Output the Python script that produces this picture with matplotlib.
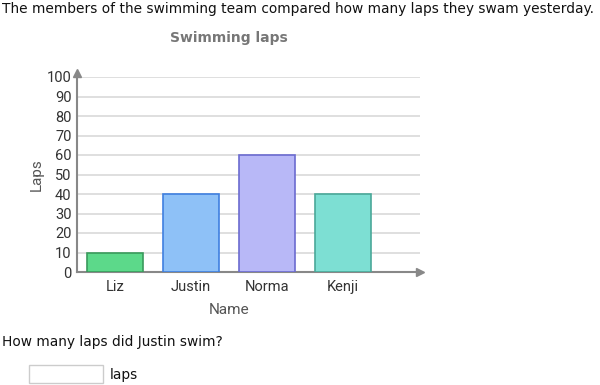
import numpy as np
import matplotlib.pyplot as plt
from matplotlib.patches import Rectangle

names = ['Liz', 'Justin', 'Norma', 'Kenji']
laps = [10, 40, 60, 40]
fills = ['#5cd98a', '#8ec1f7', '#b8b8f7', '#7ddfd3']
edges = ['#3a9a5c', '#3f7fe0', '#6b6bd0', '#4aa899']
yticks = list(range(0, 101, 10))

W, H = 600, 385
fig = plt.figure(figsize=(W / 100, H / 100), dpi=100)

# axes box in pixels: left 77, right 420, bottom y=272, top y=77
ax = fig.add_axes([77 / W, 1 - 272 / H, (420 - 77) / W, (272 - 77) / H])
x = np.arange(len(names))
ax.bar(x, laps, width=0.737, color=fills, edgecolor=edges, linewidth=1.2, zorder=3)
ax.set_xlim(-0.5, 4.01)
ax.set_ylim(0, 100)
ax.set_yticks(yticks)
ax.set_xticks(x)
ax.set_xticklabels(names)
ax.grid(axis='y', color='#d9d9d9', linewidth=1.2, zorder=0)
for s in ['top', 'right']:
    ax.spines[s].set_visible(False)
for s in ['left', 'bottom']:
    ax.spines[s].set_color('#888888')
    ax.spines[s].set_linewidth(1.5)
ax.tick_params(length=0, labelsize=10.5, labelcolor='#333333', pad=4)
for lab in ax.get_xticklabels() + ax.get_yticklabels():
    lab.set_family('Roboto')
ax.tick_params(axis='x', pad=6)

# arrows on the axes
ax.plot(1, 0, '>', transform=ax.transAxes, color='#888888', ms=6, clip_on=False, zorder=4)
ax.plot(0, 1.02, '^', transform=ax.transAxes, color='#888888', ms=6, clip_on=False, zorder=4)

ax.set_ylabel('Laps', family='Roboto', fontsize=11, color='#555555')
ax.set_xlabel('Name', family='Roboto', fontsize=11, color='#555555')
ax.yaxis.set_label_coords((37 - 77) / 343, (272 - 175) / 195)
ax.xaxis.set_label_coords((229 - 77) / 343, -(310 - 272) / 195)
ax.xaxis.label.set_va('center')
ax.yaxis.label.set_va('center')

fig.text(229 / W, 1 - 38 / H, 'Swimming laps', ha='center', va='center',
         fontsize=10, fontweight='bold', color='#777777', family='DejaVu Sans')
fig.text(2 / W, 1 - 9 / H,
         'The members of the swimming team compared how many laps they swam yesterday.',
         ha='left', va='center', fontsize=9.95, color='#111111', family='DejaVu Sans')
fig.text(2 / W, 1 - 342 / H, 'How many laps did Justin swim?', ha='left', va='center',
         fontsize=9.95, color='#111111', family='DejaVu Sans')
fig.patches.append(Rectangle((29 / W, 1 - 383 / H), 74 / W, 18 / H, transform=fig.transFigure,
                             facecolor='white', edgecolor='#cccccc', linewidth=1))
fig.text(110 / W, 1 - 375 / H, 'laps', ha='left', va='center', fontsize=9.95,
         color='#111111', family='DejaVu Sans')

fig.savefig('out.png', dpi=100)
